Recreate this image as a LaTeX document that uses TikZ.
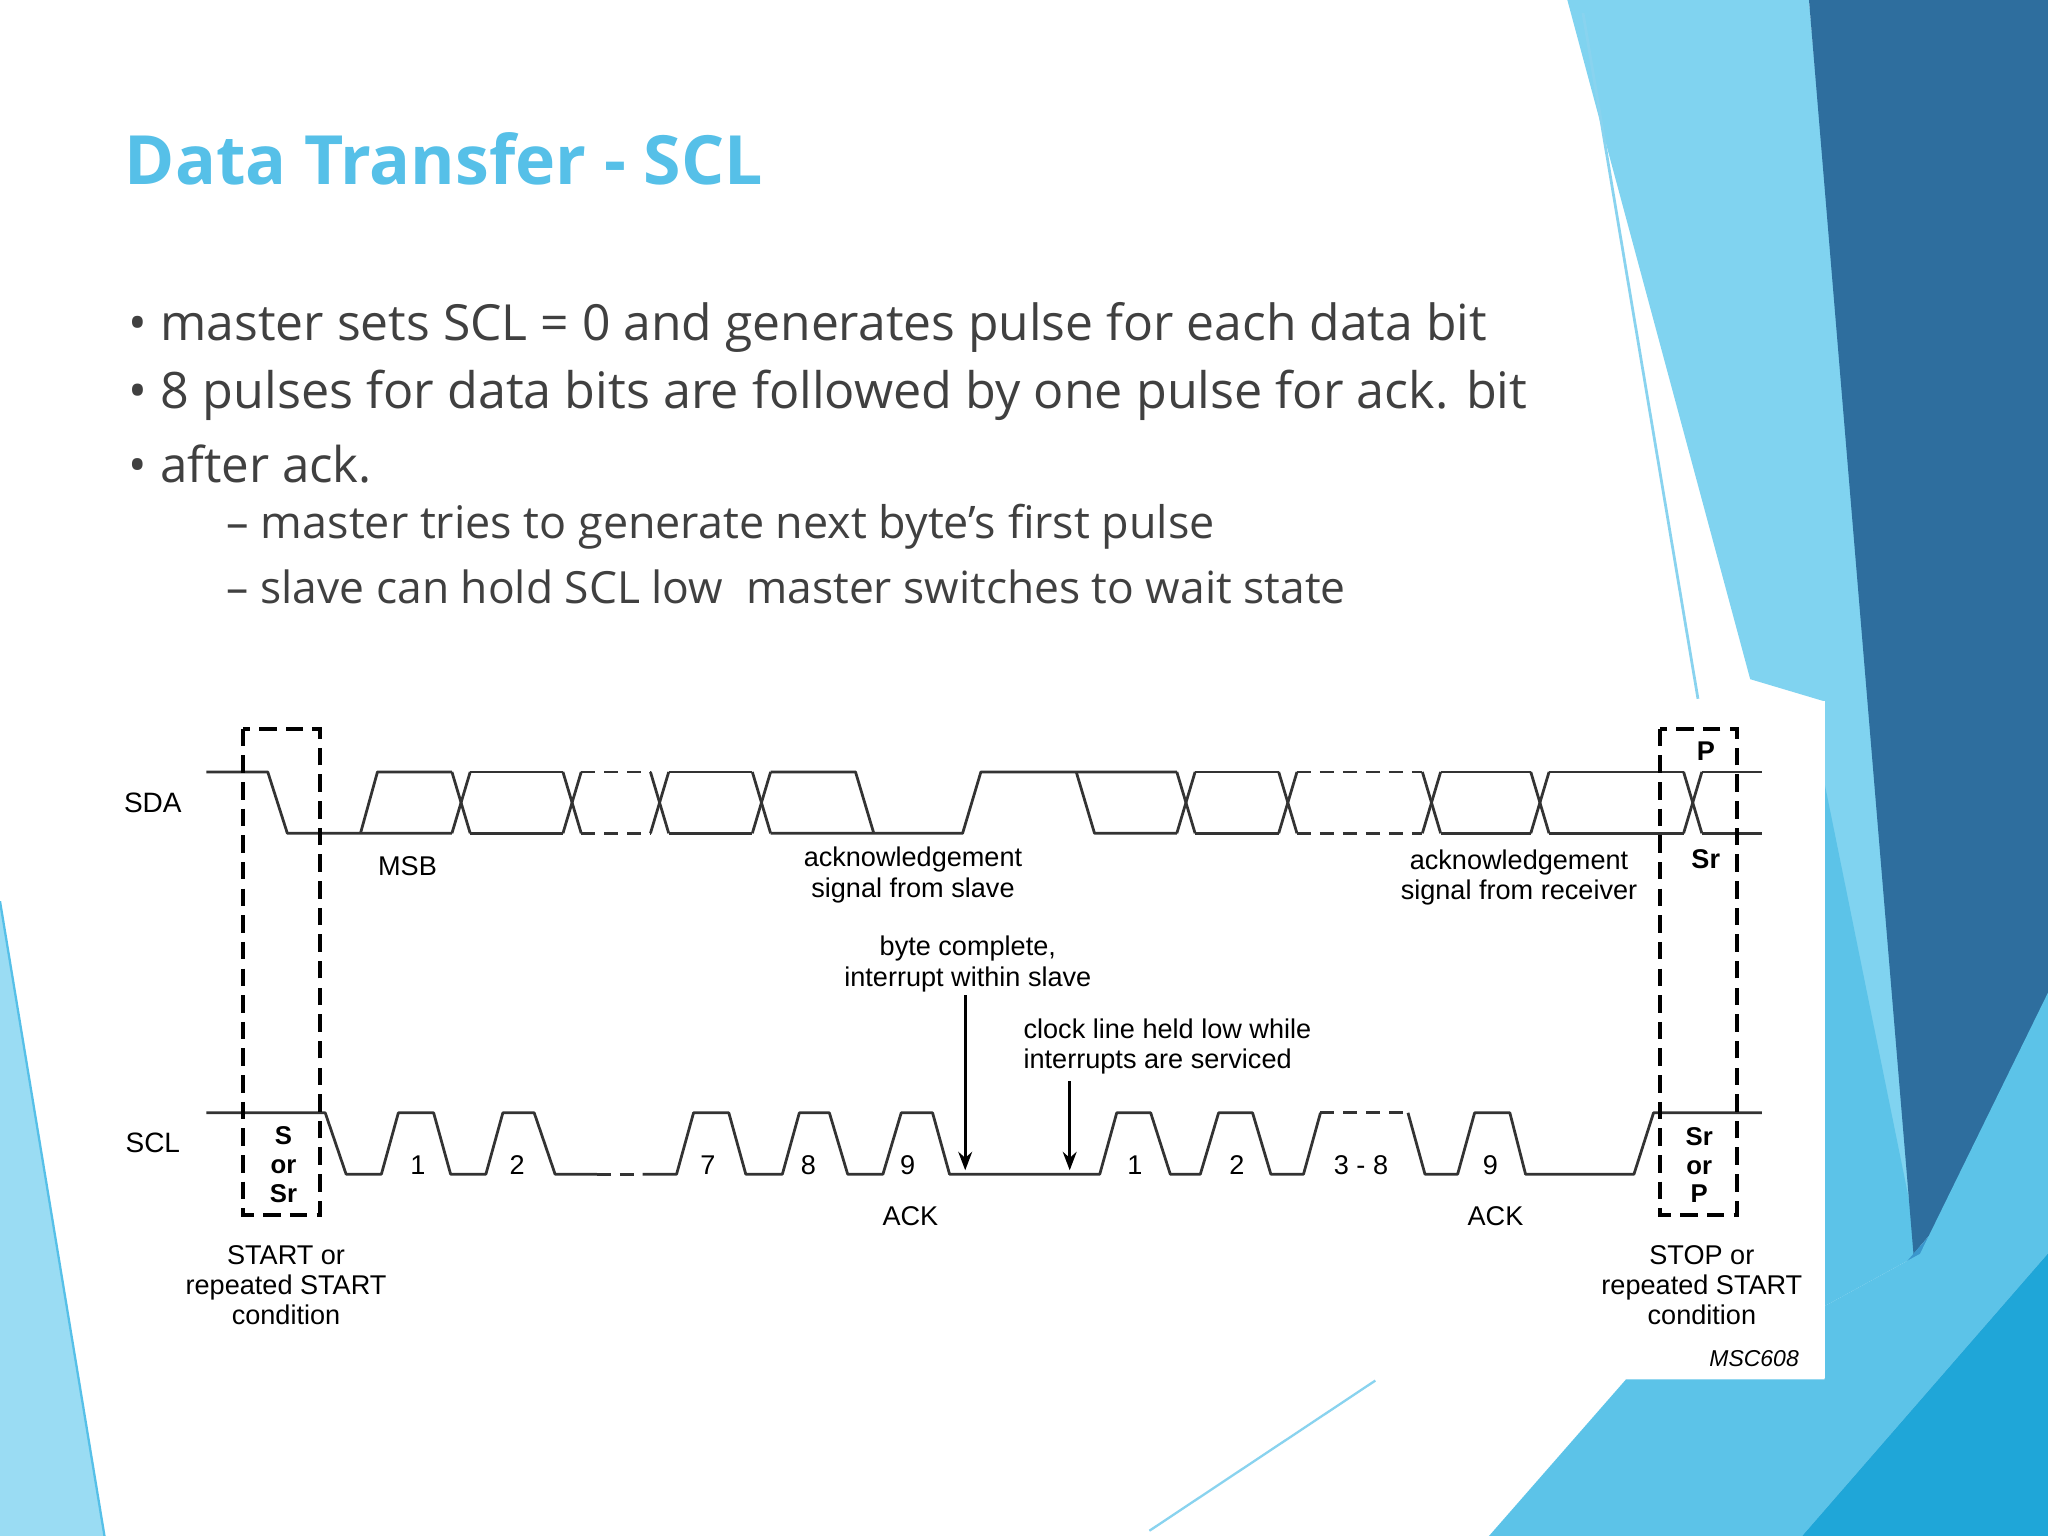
\documentclass[tikz,border=0pt]{standalone}
\usepackage{fontspec}
\setmainfont{Liberation Sans}
\newfontfamily\slidefont{Open Sans}
\usetikzlibrary{arrows.meta}
\definecolor{titleblue}{HTML}{56C0E8}
\definecolor{bodygray}{HTML}{404040}
\definecolor{sig}{HTML}{333333}
\definecolor{lb}{HTML}{80D3F0}
\definecolor{db}{HTML}{2E6E9E}
\definecolor{mb}{HTML}{3A96CC}
\definecolor{cb}{HTML}{5CC3E8}
\definecolor{bb}{HTML}{1FA6D8}
\tikzset{
  wave/.style={draw=sig, line width=0.6pt, line join=round},
  wdash/.style={wave, dash pattern=on 3pt off 2pt},
  cbox/.style={draw=black, line width=0.9pt, dash pattern=on 3.8pt off 2pt},
  lbl/.style={font=\fontsize{5.9}{6.6}\selectfont, text=black, inner sep=0pt, align=center},
  blbl/.style={lbl, font=\fontsize{5.9}{6.6}\selectfont\bfseries},
  txt/.style={anchor=west, inner sep=0pt, text=bodygray, font=\slidefont},
  arr/.style={draw=black, line width=0.7pt, -{Stealth[length=4pt,width=3pt]}}
}
\newcommand{\xc}[1]{\draw[wave] (#1-7,591)--(#1+7,638); \draw[wave] (#1-7,638)--(#1+7,591);}
\begin{document}
\begin{tikzpicture}[x=0.01cm,y=-0.01cm]
\useasboundingbox (0,0) rectangle (1568,1176);
\fill[white] (0,0) rectangle (1568,1176);
% decorations
\fill[lb] (1200,0)--(1385,0)--(1470,960)--(1397,760)--(1397,537)--(1340,520)--cycle;
\fill[cb] (1397,600)--(1470,960)--(1397,1000)--cycle;
\fill[db] (1385,0)--(1568,0)--(1568,840)--(1465,960)--cycle;
\fill[mb] (1465,960)--(1568,840)--(1568,1176)--(1380,1176)--(1430,1000)--cycle;
\fill[cb] (1140,1176)--(1245,1056)--(1397,1056)--(1397,1000)--(1470,960)--(1568,760)--(1568,960)--(1380,1176)--cycle;
\fill[bb] (1380,1176)--(1568,960)--(1568,1176)--cycle;
\draw[titleblue!70, line width=0.6pt] (1212,10)--(1300,535);
\draw[titleblue!70, line width=0.5pt] (880,1172)--(1053,1057);
\fill[lb!80] (0,690)--(80,1176)--(0,1176)--cycle;
\draw[titleblue, line width=0.5pt] (0,690)--(80,1176);
% diagram panel
\fill[white] (85,537) rectangle (1397,1055);
% title and bullets
\node[anchor=west, inner sep=0pt, text=titleblue, font=\slidefont\bfseries] (title) at (95,122) {\resizebox{4.88cm}{!}{Data Transfer - SCL}};
\node[txt] (b1) at (98,251) {\resizebox{10.39cm}{!}{\textbullet\ master sets SCL = 0 and generates pulse for each data bit}};
\node[txt] (b2) at (98,303) {\resizebox{10.70cm}{!}{\textbullet\ 8 pulses for data bits are followed by one pulse for ack. bit}};
\node[txt] (b3) at (98,355) {\resizebox{1.86cm}{!}{\textbullet\ after ack.}};
\node[txt] (s1) at (173,403) {\resizebox{7.56cm}{!}{\textendash\ master tries to generate next byte’s first pulse}};
\node[txt] (s2) at (173,449) {\resizebox{8.56cm}{!}{\textendash\ slave can hold SCL low~~master switches to wait state}};
% SDA
\draw[wave] (158,591)--(205,591)--(220,638)--(346,638);
\draw[wave] (276,638)--(289,591)--(346,591);
\xc{353}
\draw[wave] (360,591)--(431,591); \draw[wave] (360,638)--(431,638);
\xc{438}
\draw[wdash] (445,591)--(498,591); \draw[wdash] (445,638)--(498,638);
\xc{505}
\draw[wave] (512,591)--(576,591); \draw[wave] (512,638)--(576,638);
\xc{583}
\draw[wave] (590,591)--(655,591)--(669,638);
\draw[wave] (590,638)--(737,638)--(751,591)--(901,591);
\draw[wave] (824,591)--(838,638)--(901,638);
\xc{908}
\draw[wave] (915,591)--(979,591); \draw[wave] (915,638)--(979,638);
\xc{986}
\draw[wdash] (993,591)--(1089,591); \draw[wdash] (993,638)--(1089,638);
\xc{1096}
\draw[wave] (1103,591)--(1172,591); \draw[wave] (1103,638)--(1172,638);
\xc{1179}
\draw[wave] (1186,591)--(1289,591); \draw[wave] (1186,638)--(1289,638);
\xc{1296}
\draw[wave] (1303,591)--(1349,591); \draw[wave] (1303,638)--(1349,638);
% SCL
\draw[wave] (158,852)--(249,852)--(265,899)--(292,899)--(305,852)--(332,852)--(345,899)--(372,899)--(385,852)--(409,852)--(425,899)--(457,899);
\draw[wdash] (457,899)--(492,899);
\draw[wave] (492,899)--(518,899)--(531,852)--(558,852)--(571,899)--(599,899)--(612,852)--(635,852)--(649,899)--(676,899)--(690,852)--(714,852)--(727,899)--(842,899)--(855,852)--(881,852)--(896,899)--(919,899)--(933,852)--(959,852)--(973,899)--(998,899)--(1011,852);
\draw[wdash] (1011,852)--(1078,852);
\draw[wave] (1078,852)--(1091,899)--(1116,899)--(1129,852)--(1156,852)--(1168,899)--(1251,899)--(1266,852)--(1349,852);
% boxes
\draw[cbox] (186,558) rectangle (245,930);
\draw[cbox] (1271,558) rectangle (1330,930);
% arrows
\coordinate (a1s) at (739,762); \coordinate (a1e) at (739,896);
\coordinate (a2s) at (819,828); \coordinate (a2e) at (819,896);
\draw[arr] (a1s)--(a1e);
\draw[arr] (a2s)--(a2e);
% labels
\node[lbl, font=\fontsize{6.1}{7}\selectfont] (sda) at (117,615) {SDA};
\node[lbl, font=\fontsize{6.1}{7}\selectfont] (scl) at (117,875) {SCL};
\node[lbl] (msb) at (312,663) {MSB};
\node[lbl] (acks) at (699,670) {acknowledgement\\signal from slave};
\node[lbl] (bc) at (741,738) {byte complete,\\interrupt within slave};
\node[lbl, align=left, anchor=west] (cl) at (783,801) {clock line held low while\\interrupts are serviced};
\node[lbl] (ackr) at (1163,672) {acknowledgement\\signal from receiver};
\node[blbl] (p) at (1306,575) {P};
\node[blbl] (sr) at (1306,658) {Sr};
\node[blbl, font=\fontsize{5.6}{6.3}\selectfont\bfseries] (ssr) at (217,892) {S\\or\\Sr};
\node[blbl, font=\fontsize{5.6}{6.3}\selectfont\bfseries] (srp) at (1301,892) {Sr\\or\\P};
\node[lbl] (ack1) at (697,931) {ACK};
\node[lbl] (ack2) at (1145,931) {ACK};
\node[lbl] (start) at (219,984) {START or\\repeated START\\condition};
\node[lbl] (stop) at (1303,984) {STOP or\\repeated START\\condition};
\node[lbl, font=\fontsize{5}{6}\selectfont\itshape] (msc) at (1343,1040) {MSC608};
\foreach \x/\t in {320/1,396/2,542/7,619/8,695/9,869/1,947/2,1042/3 - 8,1141/9}
  \node[lbl] (n\x) at (\x,892) {\t};
\end{tikzpicture}
\end{document}
